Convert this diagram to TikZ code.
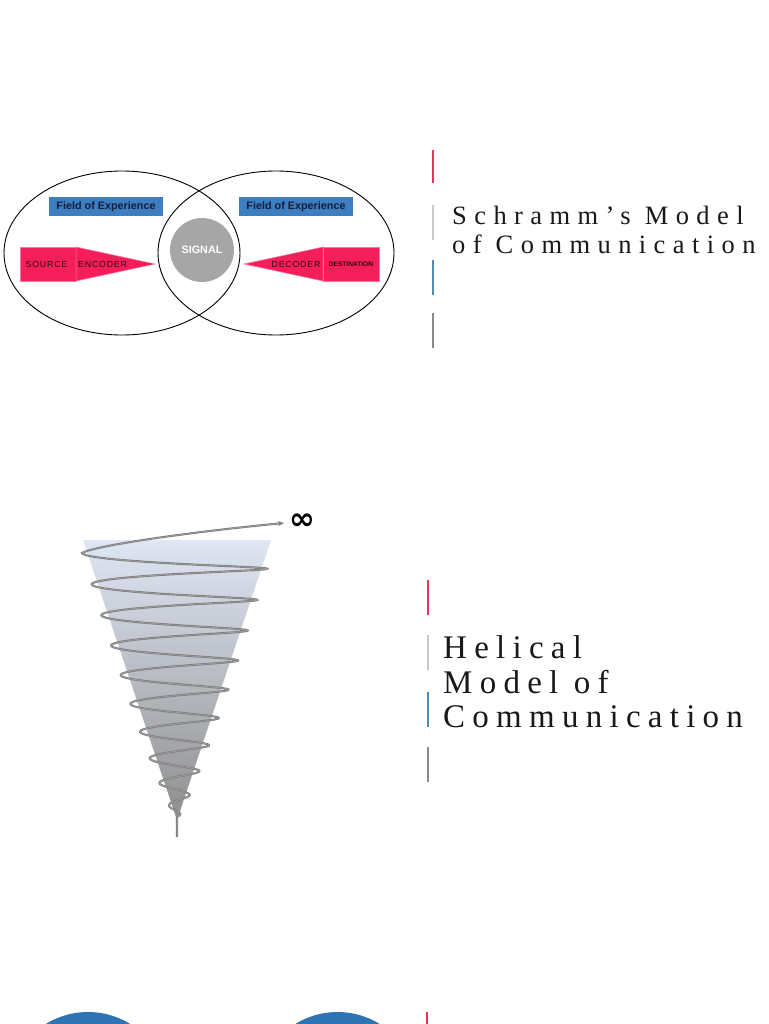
\documentclass[tikz,border=0pt]{standalone}
\usepackage{fontspec}
\setmainfont{Liberation Sans}
\newfontfamily\titlesmall[LetterSpace=28]{Liberation Serif}
\newfontfamily\titlebig[LetterSpace=22]{Liberation Serif}
\newfontfamily\blockfont[LetterSpace=9]{Liberation Sans}
\newfontfamily\inftyfont{DejaVu Sans}
\usetikzlibrary{shapes.geometric,arrows.meta}
\definecolor{pinkred}{HTML}{F41E5A}
\definecolor{fieldblue}{HTML}{3D7EC0}
\definecolor{fieldtext}{HTML}{141E3C}
\definecolor{darktext}{HTML}{2B0B14}
\definecolor{signalgray}{HTML}{A6A6A6}
\definecolor{barred}{HTML}{E8335A}
\definecolor{barlight}{HTML}{C9C9C9}
\definecolor{barblue}{HTML}{4F8DAA}
\definecolor{bardark}{HTML}{8A8A8A}
\definecolor{conetop}{HTML}{DFE6F4}
\definecolor{conemid}{HTML}{C3C8D2}
\definecolor{conebot}{HTML}{8E8E8E}
\definecolor{helixout}{HTML}{7E7E7E}
\definecolor{helixin}{HTML}{A9A9A9}
\definecolor{circblue}{HTML}{2E74B5}
\tikzset{
  field/.style={ellipse, draw=black, line width=0.9pt, minimum width=236pt, minimum height=164pt, inner sep=0pt},
  fieldbox/.style={rectangle, fill=fieldblue, minimum width=114pt, minimum height=19pt, inner sep=0pt,
                   font=\fontsize{10.8}{10.8}\selectfont\bfseries, text=fieldtext},
  signalnode/.style={circle, fill=signalgray, minimum size=64pt, inner sep=0pt,
                   font=\fontsize{10.8}{10.8}\selectfont\bfseries, text=white},
  blocktext/.style={inner sep=0pt, font=\fontsize{8.8}{8.8}\blockfont, text=darktext},
  pinkshape/.style={fill=pinkred, draw=pinkred!60!white, line width=0.5pt},
  bar/.style={line width=2.4pt},
  stitle/.style={anchor=base west, inner sep=0pt, font=\fontsize{26.5}{26.5}\titlesmall, text=black!90},
  btitle/.style={anchor=base west, inner sep=0pt, font=\fontsize{33}{33}\titlebig, text=black!90},
}
\begin{document}
\begin{tikzpicture}[x=1pt,y=-1pt]
\useasboundingbox (0,0) rectangle (768,1024);
\clip (0,0) rectangle (768,1024);
\fill[white] (0,0) rectangle (768,1024);

% ---------------- Schramm's model ----------------
\node[field] (leftfield) at (122,253) {};
\node[field] (rightfield) at (276,253) {};
\node[fieldbox] (fieldL) at (106,206.5) {Field of Experience};
\node[fieldbox] (fieldR) at (296,206.5) {Field of Experience};
\node[signalnode] (signal) at (202,250) {SIGNAL};

\fill[pinkshape] (20,247) rectangle (76,281);
\fill[pinkshape] (76,247) -- (76,281) -- (155,264) -- cycle;
\fill[pinkshape] (323,247) rectangle (379,281);
\fill[pinkshape] (323,247) -- (323,281) -- (244,264) -- cycle;
\node[blocktext] (source) at (46.5,264) {SOURCE};
\node[blocktext, anchor=west] (encoder) at (78,264) {ENCODER};
\node[blocktext] (decoder) at (296,264) {DECODER};
\node[blocktext, font=\fontsize{6.6}{6.6}\selectfont\bfseries] (destination) at (351,264.5) {DESTINATION};

\draw[bar, barred]   (433,150) -- (433,183);
\draw[bar, barlight] (433,205) -- (433,240);
\draw[bar, barblue]  (433,260) -- (433,295);
\draw[bar, bardark]  (433,313) -- (433,348);
\node[stitle] (stitle1) at (452,225) {Schramm’s Model};
\node[stitle] (stitle2) at (452,253) {of Communication};

% ---------------- Helical model ----------------
\shade[top color=conetop, middle color=conemid, bottom color=conebot]
  (83,540) -- (271,540) -- (177,820) -- cycle;
\def\helixpath{(177,837) -- (177,817) --
  plot[domain=0:3420, samples=900]
   ({177+(3+92*(\x/3420))*cos(\x)}, {815-262*((\x/3420)^1.15)+0.03*(3+92*(\x/3420))*sin(\x)})
  .. controls (96,545) and (200,531) .. (284,523)}
\draw[helixout, line width=2.1pt, -{Stealth[length=6pt,width=5pt]}] \helixpath;
\draw[helixin, line width=0.5pt, shorten >=6pt] \helixpath;
\node[inner sep=0pt, font=\fontsize{31}{31}\inftyfont\bfseries] (infty) at (302.5,522) {∞};

\draw[bar, barred]   (428,580) -- (428,615);
\draw[bar, barlight] (428,635) -- (428,670);
\draw[bar, barblue]  (428,692) -- (428,727);
\draw[bar, bardark]  (428,747) -- (428,782);
\node[btitle] (btitle1) at (443,658) {Helical};
\node[btitle] (btitle2) at (443,693) {Model of};
\node[btitle] (btitle3) at (443,727) {Communication};

% ---------------- bottom (cut off) ----------------
\fill[circblue] (88,1092) circle[radius=80];
\fill[circblue] (337.5,1092) circle[radius=80];
\draw[bar, barred] (427,1012) -- (427,1026);
\end{tikzpicture}
\end{document}
